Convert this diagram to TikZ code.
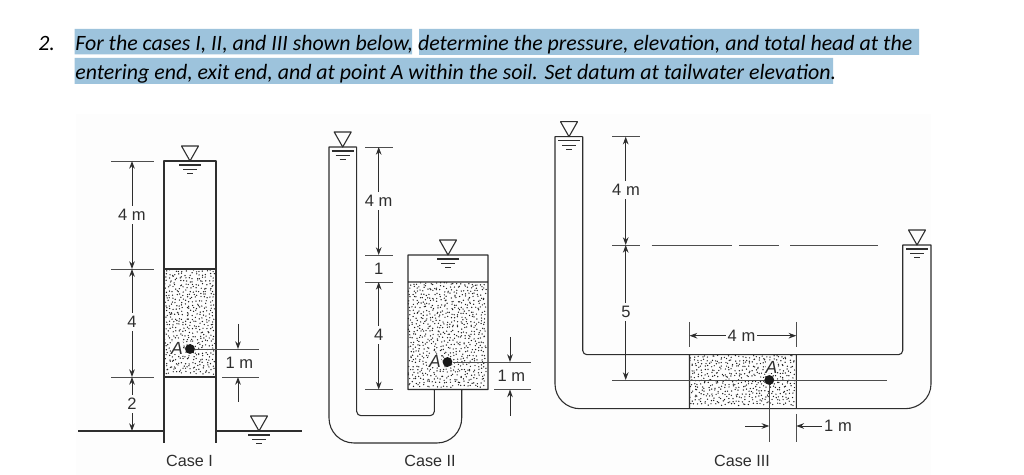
\documentclass[tikz,border=0pt]{standalone}
\usepackage{fontspec}
\usetikzlibrary{arrows.meta}
\setmainfont{Carlito}
\newfontfamily\figfont{Liberation Sans}
\definecolor{markblue}{HTML}{9DC3DC}
\definecolor{figback}{HTML}{FDFDFD}
\definecolor{lineink}{HTML}{2E2E2E}
\tikzset{
  wall/.style={draw=lineink,line width=.62pt},
  thin line/.style={draw=lineink!85,line width=.55pt},
  dimarrow/.style={draw=lineink,line width=.55pt,->},
  dimtext/.style={font=\figfont\fontsize{9.4}{9.4}\selectfont,text=lineink,fill=figback,inner sep=1.8pt},
  pointname/.style={font=\figfont\itshape\fontsize{10}{10}\selectfont,text=lineink,inner sep=0pt},
  casename/.style={font=\figfont\fontsize{9.2}{9.2}\selectfont,text=lineink,inner sep=0pt},
  seepoint/.style={circle,fill=black!90,inner sep=0pt,minimum size=5.6pt},
  question/.style={font=\itshape\fontsize{12.45}{12.45}\selectfont,anchor=base west,inner sep=0pt}
}
% water level mark with its apex on the surface
\newcommand{\watermark}[2]{%
\draw[wall] (#1-8.5,#2-15)--(#1+8.5,#2-15)--(#1,#2)--cycle;
\draw[wall] (#1-11,#2+4)--(#1+11,#2+4) (#1-7,#2+8.5)--(#1+7,#2+8.5) (#1-3,#2+12.5)--(#1+3,#2+12.5);
}
% dotted soil block: left, top, right, bottom
\newcommand{\soilblock}[4]{%
\pgfmathsetmacro{\xfirst}{#1+1.8}
\pgfmathsetmacro{\xnext}{#1+5.2}
\pgfmathsetmacro{\xlast}{#3-1.5}
\pgfmathsetmacro{\yfirst}{#2+1.8}
\pgfmathsetmacro{\ynext}{#2+5.2}
\pgfmathsetmacro{\ylast}{#4-1.5}
\foreach \gx in {\xfirst,\xnext,...,\xlast}{
\foreach \gy in {\yfirst,\ynext,...,\ylast}{
\pgfmathsetmacro{\dotx}{\gx+1.5*rand}
\pgfmathsetmacro{\doty}{\gy+1.5*rand}
\fill[black!90] (\dotx,\doty) circle (.4pt);
}}
}
\begin{document}
\begin{tikzpicture}[line join=round,>={Stealth[length=4.4pt,width=3.2pt]},x=.02cm,y=-.02cm]
\useasboundingbox (0,0) rectangle (1024,475);
\fill[white] (0,0) rectangle (1024,475);
\fill[figback] (76,114) rectangle (931,475);
\pgfmathsetseed{11}
% text
\fill[markblue] (74.5,29) rectangle (412,54.5) (419,29) rectangle (919,55) (74.5,58) rectangle (833,84);
\node[question] (qnum) at (38,51) {2.};
\node[question] (qone) at (75,51) {For the cases I, II, and III shown below, determine the pressure, elevation, and total head at the};
\node[question] (qtwo) at (75,80) {entering end, exit end, and at point A within the soil. Set datum at tailwater elevation.};

% case I
\soilblock{164}{269}{216}{377}
\draw[wall] (164,443)--(164,161)--(216,161)--(216,443)
(164,269)--(216,269)
(164,377)--(216,377)
(78,431)--(164,431)
(216,431)--(302,431);
\watermark{190}{161}
\watermark{259}{431}
\draw[thin line] (111,161)--(154,161) (111,269)--(154,269) (111,377)--(154,377);
\draw[dimarrow,<->] (132,161)--(132,269);
\draw[dimarrow,<->] (132,269)--(132,377);
\draw[dimarrow,<->] (132,377)--(132,431);
\path (132,215)node[dimtext] (leftfour){4 m}
(132,322)node[dimtext] (lefttwo){4}
(132,404)node[dimtext] (leftone){2};
\node[seepoint] (dotone) at (190,349) {};
\node[pointname,fill=figback] (nameone) at (177,348) {A};
\coordinate (endone) at (259,349);
\draw[thin line] (dotone)--(endone) (222,377)--(259,377);
\draw[dimarrow] (238,324)--(238,349);
\draw[dimarrow] (238,402)--(238,377);
\node[dimtext,inner sep=0pt] (mone) at (239.5,363) {1 m};
\node[casename] (caseone) at (189.5,461) {Case I};

% case II
\soilblock{408}{282}{488}{389.5}
\draw[wall] (356.7,147)--(329,147)--(329,418) to[out=-90,in=180] (354,443)--(437,443) to[out=0,in=-90] (461.7,418)--(461.7,389.5)
(356.7,147)--(356.7,411.5) to[out=-90,in=180] (361,415.7)--(430,415.7) to[out=0,in=-90] (434.3,411.5)--(434.3,389.5)
(408,389.5)--(408,255)--(488,255)--(488,389.5)--cycle
(408,282)--(488,282);
\watermark{342.7}{147}
\watermark{448}{255}
\draw[thin line] (365,147)--(393,147) (365,255)--(393,255) (365,282)--(393,282) (365,389.5)--(393,389.5);
\draw[dimarrow,<->] (378.7,147)--(378.7,255);
\draw[dimarrow,<->] (378.7,282)--(378.7,389.5);
\path (378.7,201)node[dimtext] (midfour){4 m}
(378.7,268.5)node[dimtext] (midone){1}
(378.7,335)node[dimtext] (midtwo){4};
\node[seepoint] (dottwo) at (447.5,362) {};
\node[pointname,fill=figback] (nametwo) at (435,361) {A};
\coordinate (endtwo) at (531,362);
\draw[thin line] (dottwo)--(endtwo) (494.3,389.5)--(531,389.5);
\draw[dimarrow] (510,337)--(510,362);
\draw[dimarrow] (510,415.7)--(510,389.5);
\node[dimtext,inner sep=0pt] (mtwo) at (511.5,376) {1 m};
\node[casename] (casetwo) at (430,461) {Case II};

% case III
\soilblock{689.5}{354.7}{796.3}{408.7}
\draw[wall] (582.7,136.7)--(555,136.7)--(555,384) to[out=-90,in=180] (580,408.7)--(905,408.7) to[out=0,in=-90] (931,384)--(931,245)--(902.7,245)
(582.7,136.7)--(582.7,350.5) to[out=-90,in=180] (587,354.7)--(898.5,354.7) to[out=0,in=-90] (902.7,350.5)--(902.7,245)
(689.5,354.7)--(689.5,408.7)
(796.3,354.7)--(796.3,408.7);
\watermark{569}{136.7}
\watermark{917}{245}
\draw[thin line] (612,136.7)--(639.5,136.7) (612,245)--(639.5,245)
(651.7,245)--(731.7,245) (739,245)--(779.3,245) (790,245)--(878.3,245)
(612,380)--(886.7,380);
\draw[dimarrow,<->] (625.7,136.7)--(625.7,245);
\draw[dimarrow,<->] (625.7,245)--(625.7,380);
\path (626,190)node[dimtext] (topfour){4 m}
(626,312)node[dimtext] (topfive){5};
\draw[thin line] (689.5,322)--(689.5,347) (796.3,322)--(796.3,347);
\draw[dimarrow,<->] (689.5,335.7)--(796.3,335.7);
\node[dimtext,inner sep=1pt] (wide) at (741.5,335.5) {4 m};
\node[seepoint] (dotthree) at (769.3,380) {};
\node[pointname,fill=figback] (namethree) at (771.5,367) {A};
\coordinate (endthree) at (769.3,441.7);
\draw[thin line] (dotthree)--(endthree) (796.3,414)--(796.3,441.7);
\draw[dimarrow] (745,426)--(769.3,426);
\draw[dimarrow] (821.7,426)--(796.3,426);
\node[dimtext,inner sep=0pt] (mthree) at (838,426) {1 m};
\node[casename] (casethree) at (742,461) {Case III};
\end{tikzpicture}
\end{document}
